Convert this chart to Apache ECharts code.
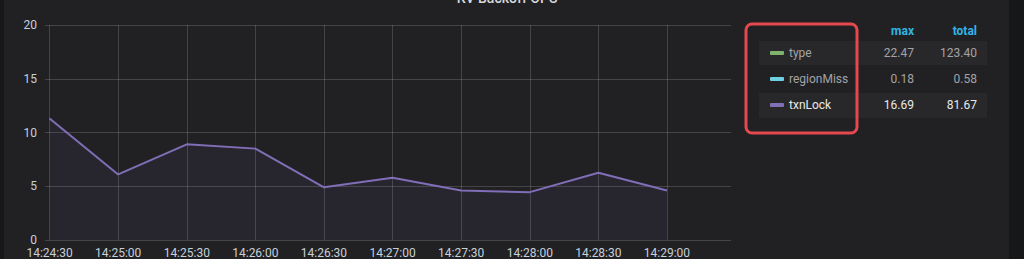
<!DOCTYPE html>
<html>
<head>
<meta charset="utf-8">
<script src="https://cdn.jsdelivr.net/npm/echarts@6/dist/echarts.min.js"></script>
<style>
  html, body { margin: 0; padding: 0; background: #161719; }
  #panel { position: absolute; left: 4px; top: 0; width: 1005px; height: 259px; background: #212124; }
  #chart { position: absolute; left: 0; top: 0; width: 1024px; height: 259px; }
</style>
</head>
<body>
<div id="panel"></div>
<div id="chart"></div>
<script>
// ---- data ----
const title = 'KV Backoff OPS';
const times = ['14:24:30','14:25:00','14:25:30','14:26:00','14:26:30','14:27:00','14:27:30','14:28:00','14:28:30','14:29:00'];
const txnLock = [11.3, 6.1, 8.9, 8.5, 4.9, 5.8, 4.6, 4.45, 6.25, 4.6];
const xTickLabels = ['14:24:30','14:25:00','14:25:30','14:26:00','14:26:30','14:27:00','14:27:30','14:28:00','14:28:30','14:29:00'];
const seriesNames = ['type', 'regionMiss', 'txnLock'];
const seriesColors = ['#7eb26d', '#6ed0e0', '#806eb7'];
const maxValues = ['22.47', '0.18', '16.69'];
const totalValues = ['123.40', '0.58', '81.67'];
const columnHeaders = ['max', 'total'];
const axisMin = '14:24:28';
const axisMax = '14:29:28';

// seconds of day
const sec = t => { const p = t.split(':').map(Number); return p[0] * 3600 + p[1] * 60 + p[2]; };
const txnData = times.map((t, i) => [sec(t), txnLock[i]]);
const tickValues = xTickLabels.map(sec);
const pad = n => String(n).padStart(2, '0');
const fmtTime = v => pad(Math.floor(v / 3600)) + ':' + pad(Math.floor(v / 60) % 60) + ':' + pad(Math.round(v) % 60);

const font = 'Roboto';
const chart = echarts.init(document.getElementById('chart'), null, { renderer: 'svg' });

const rowY = [53, 79, 105];
const graphics = [
  { type: 'rect', z: -5, shape: { x: 759, y: 41, width: 228, height: 24 }, style: { fill: '#28282b' } },
  { type: 'rect', z: -5, shape: { x: 759, y: 93, width: 228, height: 25 }, style: { fill: '#28282b' } },
  { type: 'text', x: 507, y: 5, style: { text: title, fill: '#d8d9da', font: '500 14px ' + font, textAlign: 'center', textVerticalAlign: 'bottom' } },
  { type: 'text', x: 914, y: 31, style: { text: columnHeaders[0], fill: '#33b5e5', font: 'bold 12px ' + font, textAlign: 'right', textVerticalAlign: 'middle' } },
  { type: 'text', x: 977, y: 31, style: { text: columnHeaders[1], fill: '#33b5e5', font: 'bold 12px ' + font, textAlign: 'right', textVerticalAlign: 'middle' } },
  { type: 'rect', z: 10, shape: { x: 746, y: 24, width: 111, height: 109, r: 6 }, style: { fill: 'none', stroke: '#e5484d', lineWidth: 3 } }
];
seriesNames.forEach((n, i) => {
  const col = i === 2 ? '#e8e8e8' : '#a3a3a6';
  graphics.push({ type: 'text', x: 914, y: rowY[i], style: { text: maxValues[i], fill: col, font: '12px ' + font, textAlign: 'right', textVerticalAlign: 'middle' } });
  graphics.push({ type: 'text', x: 977, y: rowY[i], style: { text: totalValues[i], fill: col, font: '12px ' + font, textAlign: 'right', textVerticalAlign: 'middle' } });
});

const option = {
  backgroundColor: 'transparent',
  animation: false,
  grid: { left: 45, right: 293, top: 25, bottom: 19, outerBoundsMode: 'none', containLabel: false },
  legend: {
    orient: 'vertical',
    left: 770, top: 45, padding: 0,
    itemWidth: 14, itemHeight: 4, itemGap: 10,
    icon: 'roundRect',
    selectedMode: false,
    data: seriesNames.map((n, i) => ({
      name: n,
      textStyle: { color: i === 2 ? '#e8e8e8' : '#a3a3a6' }
    })),
    textStyle: { fontFamily: font, fontSize: 12, lineHeight: 16 }
  },
  xAxis: {
    type: 'value',
    min: sec(axisMin), max: sec(axisMax),
    axisLine: { show: false },
    axisTick: { show: false, customValues: tickValues },
    splitLine: { show: true, lineStyle: { color: 'rgba(255,255,255,0.16)', width: 1 } },
    axisLabel: { customValues: tickValues, color: '#c7d0d9', fontFamily: font, fontSize: 12, margin: 7, formatter: v => fmtTime(v), hideOverlap: false }
  },
  yAxis: {
    type: 'value', min: 0, max: 20, interval: 5,
    axisLine: { show: false }, axisTick: { show: false },
    splitLine: { lineStyle: { color: 'rgba(255,255,255,0.16)', width: 1 } },
    axisLabel: { color: '#c7d0d9', fontFamily: font, fontSize: 12, margin: 8 }
  },
  series: [
    { name: seriesNames[0], type: 'line', data: [], color: seriesColors[0], showSymbol: false },
    { name: seriesNames[1], type: 'line', data: [], color: seriesColors[1], showSymbol: false },
    { name: seriesNames[2], type: 'line', data: txnData, color: seriesColors[2], showSymbol: false,
      lineStyle: { width: 2, color: seriesColors[2] },
      areaStyle: { color: 'rgba(128,110,183,0.10)', origin: 'start' } }
  ],
  graphic: graphics
};
chart.setOption(option);
</script>
</body>
</html>
